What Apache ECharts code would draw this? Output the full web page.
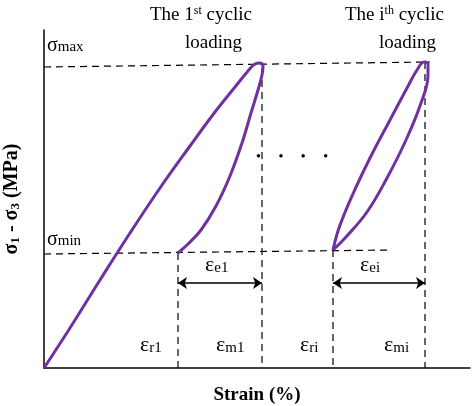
<!DOCTYPE html><html><head><meta charset="utf-8"><script src="https://cdn.jsdelivr.net/npm/echarts@6/dist/echarts.min.js"></script>
<style>html,body{margin:0;background:#fff}#c{width:474px;height:406px}</style></head><body><div id="c"></div><script>
const loading1 = [[0,0],[26,40],[56,88],[86,135],[116,180],[146,222],[171,256],[191,281],[204,297],[211,304],[216,305],[219,302],[218,293],[214,278],[207,255],[198,225],[186,192],[172,162],[157,138],[144,124],[134,115]];
const loadingI = [[289,118],[295,140],[308,172],[326,210],[346,248],[363,280],[373,298],[380,306],[384,304],[384,293],[377,265],[362,228],[343,190],[323,156],[302,131],[289,118]];
const dashed = [[[0,301],[386,306]],[[0,114],[346,118]],[[134,115],[134,0]],[[218,300],[218,0]],[[289,118],[289,0]],[[381,306],[381,0]]];
const arrows = [[[134,85],[218,85]],[[289,85],[381,85]]];
const F='Liberation Serif';
const series=[];
dashed.forEach(d=>series.push({type:'line',data:d,symbol:'none',silent:true,lineStyle:{color:'#000',width:1.2,type:[7,5]}}));
series.push({type:'lines',coordinateSystem:'cartesian2d',data:arrows.map(a=>({coords:a})),symbol:['arrow','arrow'],symbolSize:9,lineStyle:{color:'#000',width:1.5,opacity:1}});
[loading1,loadingI].forEach(d=>series.push({type:'line',data:d,smooth:0.4,symbol:'none',lineStyle:{color:'#7030a0',width:3}}));
const t=(x,y,txt,sz,extra)=>Object.assign({type:'text',left:x,top:y,style:Object.assign({text:txt,font:sz+'px "'+F+'"',fill:'#000'},extra||{})});
const eps=(x,y,sub)=>({type:'text',left:x,top:y,style:{text:'{a|ε}{b|'+sub+'}',fill:'#000',rich:{a:{fontFamily:F,fontSize:22},b:{fontFamily:F,fontSize:15,padding:[6,0,0,0]}}}});
const c=echarts.init(document.getElementById('c'));
c.setOption({animation:false,
grid:{left:44,right:4,top:30,bottom:38,containLabel:false,outerBoundsMode:'none'},
xAxis:{type:'value',min:0,max:426,axisLine:{lineStyle:{color:'#000',width:1.5}},axisTick:{show:false},axisLabel:{show:false},splitLine:{show:false},
 name:'Strain (%)',nameLocation:'middle',nameGap:18,nameTextStyle:{fontFamily:F,fontSize:19,fontWeight:'bold',color:'#000'}},
yAxis:{type:'value',min:0,max:338,axisLine:{lineStyle:{color:'#000',width:1.5}},axisTick:{show:false},axisLabel:{show:false},splitLine:{show:false},
 name:'{a|σ}{s|1}{a| - σ}{s|3}{a| (MPa)}',nameLocation:'middle',nameGap:22,nameTextStyle:{rich:{a:{fontFamily:F,fontSize:20,fontWeight:'bold',color:'#000'},s:{fontFamily:F,fontSize:13,fontWeight:'bold',color:'#000',padding:[8,0,0,0]}}}},
graphic:[
 {type:'text',left:150,top:5,style:{text:'The 1{s|st} cyclic',fill:'#000',font:'19px "'+F+'"',rich:{s:{fontFamily:F,fontSize:12,padding:[0,0,8,0]}}}},
 t(185,34,'loading',19),
 {type:'text',left:345,top:5,style:{text:'The i{s|th} cyclic',fill:'#000',font:'19px "'+F+'"',rich:{s:{fontFamily:F,fontSize:12,padding:[0,0,8,0]}}}},
 t(379,34,'loading',19),
 {type:'text',left:47,top:36,style:{text:'{a|σ}{b|max}',fill:'#000',rich:{a:{fontFamily:F,fontSize:20},b:{fontFamily:F,fontSize:15,padding:[3,0,0,0]}}}},
 {type:'text',left:47,top:230,style:{text:'{a|σ}{b|min}',fill:'#000',rich:{a:{fontFamily:F,fontSize:20},b:{fontFamily:F,fontSize:15,padding:[3,0,0,0]}}}},
 t(256,150,'•     •     •     •',14),
 eps(205,254,'e1'), eps(360,254,'ei'),
 eps(140,334,'r1'), eps(216,334,'m1'), eps(300,334,'ri'), eps(384,334,'mi')
],
series});
</script></body></html>
